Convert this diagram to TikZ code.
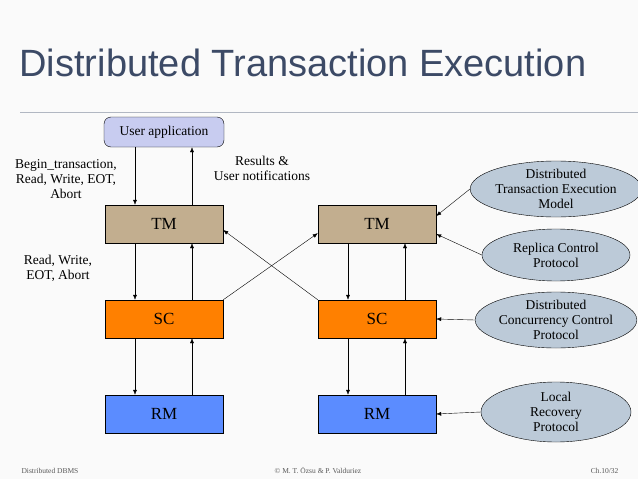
\documentclass[tikz,border=0pt]{standalone}
\usepackage{fontspec}
\setmainfont{Liberation Serif}
\newfontfamily\titlefont{Liberation Sans}
\usetikzlibrary{shapes.geometric,arrows.meta}
\definecolor{tmc}{HTML}{C2AE8F}
\definecolor{scc}{HTML}{FF8000}
\definecolor{rmc}{HTML}{5B8CFF}
\definecolor{uac}{HTML}{C8CCF0}
\definecolor{elc}{HTML}{BCCAD8}
\definecolor{titc}{HTML}{3C4A66}
\begin{document}
\begin{tikzpicture}[x=1pt,y=-1pt,
 box/.style={draw,minimum width=118pt,minimum height=38pt,font=\fontsize{17}{18}\selectfont},
 ell/.style={draw,ellipse,fill=elc,inner sep=0pt,align=center,font=\fontsize{13.5}{15}\selectfont},
 lab/.style={align=center,font=\fontsize{13.5}{15}\selectfont},
 arr/.style={-{Latex[length=5pt,width=4pt]}}]
\fill[gray!4] (0,0) rectangle (638,479);
\useasboundingbox (0,0) rectangle (638,479);
\node[anchor=west,text=titc,font=\titlefont\fontsize{38}{40}\selectfont] (title) at (16,63) {Distributed Transaction Execution};
\draw[titc!40,line width=0.8pt] (20,112) -- (638,112);
\node[draw,rounded corners=7pt,fill=uac,minimum width=120pt,minimum height=30pt,font=\fontsize{13.5}{15}\selectfont] (ua) at (164,132) {User application};
\node[box,fill=tmc] (tm1) at (164,224) {TM};
\node[box,fill=scc] (sc1) at (164,319) {SC};
\node[box,fill=rmc] (rm1) at (164,414) {RM};
\node[box,fill=tmc] (tm2) at (377,224) {TM};
\node[box,fill=scc] (sc2) at (377,319) {SC};
\node[box,fill=rmc] (rm2) at (377,414) {RM};
\node[ell,minimum width=155pt,minimum height=56pt] (e1) at (556,189) {Distributed\\Transaction Execution\\Model};
\node[ell,minimum width=148pt,minimum height=52pt] (e2) at (556,255) {Replica Control\\Protocol};
\node[ell,minimum width=150pt,minimum height=56pt] (e3) at (556,320) {Distributed\\Concurrency Control\\Protocol};
\node[ell,minimum width=150pt,minimum height=60pt] (e4) at (556,412) {Local\\Recovery\\Protocol};
\node[lab] (l1) at (66,179) {Begin\_transaction,\\Read, Write, EOT,\\Abort};
\node[lab] (l2) at (262,168) {Results \&\\User notifications};
\node[lab] (l3) at (58,268) {Read, Write,\\EOT, Abort};
\foreach \a/\b in {ua/tm1,tm1/sc1,sc1/rm1,tm2/sc2,sc2/rm2}{
 \draw[arr] ([xshift=-29pt]\a.south) -- ([xshift=-29pt]\b.north);
 \draw[arr] ([xshift=28pt]\b.north) -- ([xshift=28pt]\a.south);}
\draw[arr] (sc1.north east) -- ([yshift=10pt]tm2.south west);
\draw[arr] (sc2.north west) -- ([yshift=-6pt]tm1.east);
\draw[arr] (e1.west) -- ([yshift=8pt]tm2.east);
\draw[arr] (e2.west) -- ([yshift=-10pt]tm2.east);
\draw[arr] (e3.west) -- (sc2.east);
\draw[arr] (e4.west) -- (rm2.east);
\node[anchor=west,font=\fontsize{7.5}{8}\selectfont,text=gray!70!black] (f1) at (18,471) {Distributed DBMS};
\node[font=\fontsize{7.5}{8}\selectfont,text=gray!70!black] (f2) at (318,471) {© M. T. Özsu \& P. Valduriez};
\node[anchor=east,font=\fontsize{7.5}{8}\selectfont,text=gray!70!black] (f3) at (622,471) {Ch.10/32};
\end{tikzpicture}
\end{document}
